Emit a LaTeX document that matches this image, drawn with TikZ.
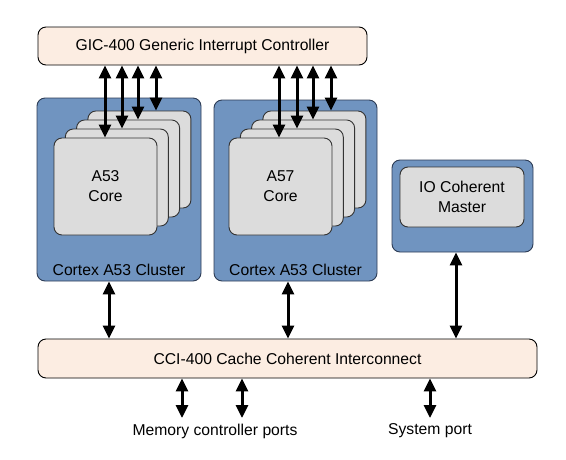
\documentclass[tikz,border=0pt]{standalone}
\usepackage{fontspec}
\setmainfont{Liberation Sans}
\usetikzlibrary{arrows.meta,positioning,calc}
\definecolor{peach}{RGB}{252,237,226}
\definecolor{clblue}{RGB}{112,148,192}
\definecolor{cledge}{RGB}{45,60,85}
\definecolor{coregray}{RGB}{220,220,220}
\tikzset{
	bar/.style={draw=black,fill=peach,rounded corners=8pt,line width=0.9pt},
	cluster/.style={draw=cledge,fill=clblue,rounded corners=8pt,line width=0.9pt},
	core/.style={draw=black!80,fill=coregray,rounded corners=8pt,line width=0.9pt,
		minimum width=103pt,minimum height=97pt,align=center},
	dbl/.style={{Triangle[length=13pt 0 0,width=12pt 0 0]}-{Triangle[length=13pt 0 0,width=12pt 0 0]},line width=3pt}
}
\begin{document}
\begin{tikzpicture}[x=1pt,y=-1pt,font=\fontsize{15.7}{20}\selectfont]
	\useasboundingbox (0,0) rectangle (566,459);
	% interrupt controller
	\node (gic) [bar,minimum width=329pt,minimum height=38pt] at (202.5,46) {GIC-400 Generic Interrupt Controller};
	% clusters
	\node (cl1) [cluster,minimum width=164pt,minimum height=183pt] at (119,189.5) {};
	\node (cl2) [cluster,minimum width=163pt,minimum height=181pt] at (295.5,190.5) {};
	\node (cl1lab) at ($(cl1.south)+(0,-12)$) {Cortex A53 Cluster};
	\node (cl2lab) at ($(cl2.south)+(0,-12)$) {Cortex A53 Cluster};
	% A53 cores
	\node (a53d) [core] at (139.4,159.5) {};
	\node (a53c) [core] at (128.1,168.5) {};
	\node (a53b) [core] at (116.8,177.5) {};
	\node (a53a) [core] at (105.5,186.5) {A53\\Core};
	% A57 cores
	\node (a57d) [core] at (314.4,159.5) {};
	\node (a57c) [core] at (303.1,168.5) {};
	\node (a57b) [core] at (291.8,177.5) {};
	\node (a57a) [core] at (280.5,186.5) {A57\\Core};
	% io master
	\node (io) [cluster,minimum width=141pt,minimum height=92pt] at (462.5,206) {};
	\node (iom) [core,minimum width=124pt,minimum height=60pt] at (462,197) {IO Coherent\\Master};
	% interconnect
	\node (cci) [bar,minimum width=499pt,minimum height=39pt] at (287.5,358.5) {CCI-400 Cache Coherent Interconnect};
	% ports
	\coordinate (m1) at (182,418);
	\coordinate (m2) at (242,418);
	\coordinate (s1) at (430,418);
	\node (mem) at (215,431) {Memory controller ports};
	\node (sys) at (430,431) {System port};
	% interrupt lines
	\draw[dbl] (gic.south -| 105,0) -- (a53a.north -| 105,0);
	\draw[dbl] (gic.south -| 122,0) -- (a53b.north -| 122,0);
	\draw[dbl] (gic.south -| 138,0) -- (a53c.north -| 138,0);
	\draw[dbl] (gic.south -| 156,0) -- (a53d.north -| 156,0);
	\draw[dbl] (gic.south -| 279,0) -- (a57a.north -| 279,0);
	\draw[dbl] (gic.south -| 297,0) -- (a57b.north -| 297,0);
	\draw[dbl] (gic.south -| 313,0) -- (a57c.north -| 313,0);
	\draw[dbl] (gic.south -| 331,0) -- (a57d.north -| 331,0);
	% to interconnect
	\draw[dbl] (cl1.south -| 109,0) -- (cci.north -| 109,0);
	\draw[dbl] (cl2.south -| 288,0) -- (cci.north -| 288,0);
	\draw[dbl] (io.south -| 456,0) -- (cci.north -| 456,0);
	\draw[dbl] (cci.south -| m1) -- (m1);
	\draw[dbl] (cci.south -| m2) -- (m2);
	\draw[dbl] (cci.south -| s1) -- (s1);
\end{tikzpicture}
\end{document}
